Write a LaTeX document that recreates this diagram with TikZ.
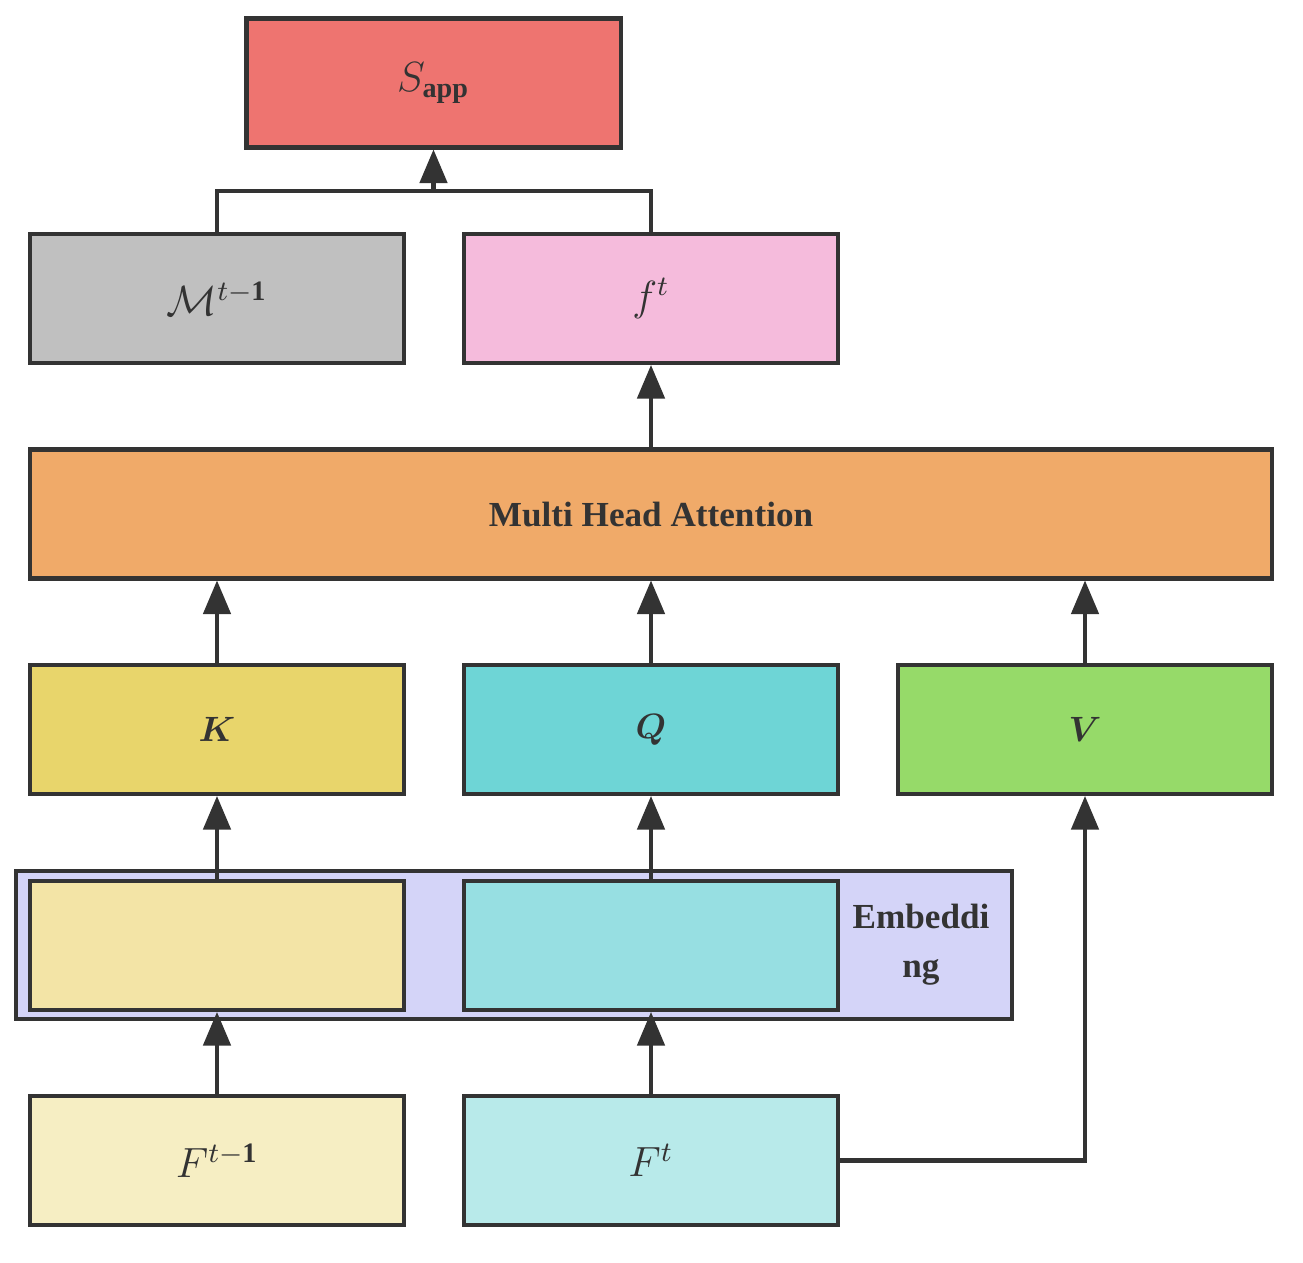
\documentclass[tikz,border=0pt]{standalone}
\usepackage{amsmath,amssymb}
\usepackage{fontspec}
\setmainfont{Liberation Serif}
\usetikzlibrary{arrows,positioning}
\definecolor{lc}{HTML}{333333}
\definecolor{cs}{HTML}{EE7470}
\definecolor{cm}{HTML}{C0C0C0}
\definecolor{cf}{HTML}{F5BBDC}
\definecolor{ca}{HTML}{F0AA69}
\definecolor{ck}{HTML}{E8D56B}
\definecolor{cq}{HTML}{6ED5D6}
\definecolor{cv}{HTML}{96DA69}
\definecolor{ce}{HTML}{D4D4F8}
\definecolor{cek}{HTML}{F3E4A6}
\definecolor{ceq}{HTML}{97DFE2}
\definecolor{cfk}{HTML}{F6EEC3}
\definecolor{cfq}{HTML}{B8EAEA}
\begin{document}
\begin{tikzpicture}[x=0.01cm,y=-0.01cm]
    \tikzstyle{box} = [draw=lc, line width=1.2pt, minimum width=3.74cm,
    minimum height=1.29cm, inner sep=0pt, text=lc, font=\normalsize\bfseries]
    \tikzstyle{mbox} = [box, font=\large\bfseries]
    \tikzstyle{arr} = [draw=lc, line width=1.2pt, -triangle 45]
    \useasboundingbox (0,0) rectangle (1303,1262);

    \node [draw=lc, line width=1.2pt, fill=ce, minimum width=9.96cm,
    minimum height=1.48cm, inner sep=0pt] (emb) at (514,945) {};

    \node [mbox,fill=cs] (s) at (433.5,83) {$S_{\mathbf{app}}$};
    \node [mbox,fill=cm] (m) at (217,298.5) {$\mathcal{M}^{t-\mathbf{1}}$};
    \node [mbox,fill=cf] (f) at (651,298.5) {$f^{t}$};
    \node [box,fill=ca,minimum width=12.42cm] (mha) at (651,514) {Multi Head Attention};
    \node [box,fill=ck] (k) at (217,729.5) {$\boldsymbol{K}$};
    \node [box,fill=cq] (q) at (651,729.5) {$\boldsymbol{Q}$};
    \node [box,fill=cv] (v) at (1085,729.5) {$\boldsymbol{V}$};
    \node [box,fill=cek] (ek) at (217,945.5) {};
    \node [box,fill=ceq] (eq) at (651,945.5) {};
    \node [mbox,fill=cfk] (fk) at (217,1160.5) {$F^{t-\mathbf{1}}$};
    \node [mbox,fill=cfq] (fq) at (651,1160.5) {$F^{t}$};
    \node [text=lc, align=center, font=\normalsize\bfseries] (embt) at (921,945) {Embeddi\\[2pt]ng};
    \coordinate (j) at (433.5,191);

    \draw [draw=lc, line width=1.2pt] (m.north) |- (j) -| (f.north);
    \draw [arr] (j) -- (s.south);
    \draw [arr] (mha.north -| f) -- (f.south);
    \draw [arr] (k.north) -- (mha.south -| k);
    \draw [arr] (q.north) -- (mha.south -| q);
    \draw [arr] (v.north) -- (mha.south -| v);
    \draw [arr] (ek.north) -- (k.south);
    \draw [arr] (eq.north) -- (q.south);
    \draw [arr] (fk.north) -- (ek.south);
    \draw [arr] (fq.north) -- (eq.south);
    \draw [arr] (fq.east) -| (v.south);
\end{tikzpicture}
\end{document}
